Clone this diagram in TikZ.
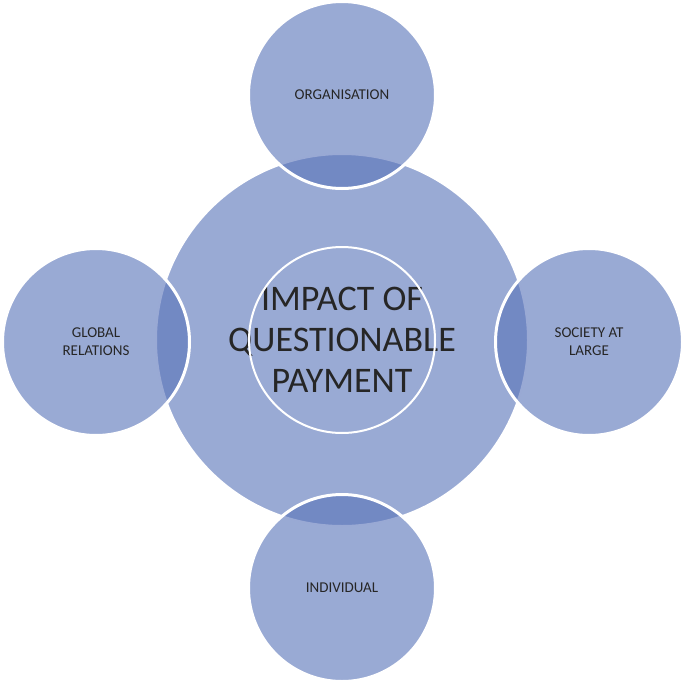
\documentclass[tikz,border=0pt]{standalone}
\usepackage{fontspec}
\setmainfont{Carlito}
\definecolor{circfill}{RGB}{89,116,185}
\begin{document}
\begin{tikzpicture}[x=1pt,y=-1pt,
  circ/.style={circle,fill=circfill,fill opacity=0.61,text opacity=1,draw=white,line width=2pt,align=center,text=black!85},
  sat/.style={circ,minimum size=188pt,font=\fontsize{15}{18}\selectfont},
  cen/.style={circ,minimum size=372pt,font=\fontsize{36}{41}\selectfont}]
\useasboundingbox (0,0) rectangle (685,685);
\node[cen] (c) at (342,340) {IMPACT OF\\QUESTIONABLE\\PAYMENT};
\node[sat] (t) at (342,95) {ORGANISATION};
\node[sat] (b) at (342,588) {INDIVIDUAL};
\node[sat] (l) at (96,342) {GLOBAL\\RELATIONS};
\node[sat] (r) at (589,342) {SOCIETY AT\\LARGE};
\foreach \n in {c,t,b,l,r} \draw[white,line width=2pt] (\n) circle[radius=\ifx\n c 185\else 93\fi];
\end{tikzpicture}
\end{document}
